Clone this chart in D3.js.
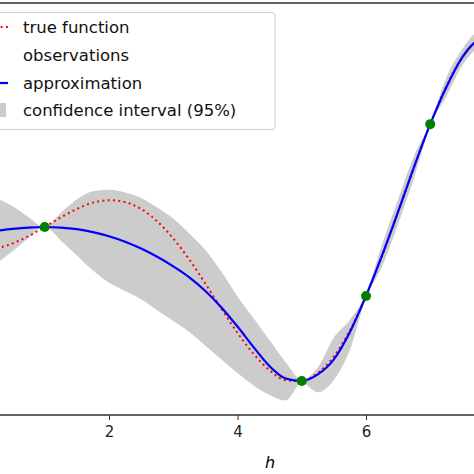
<!DOCTYPE html><html><head><meta charset="utf-8">
<script src="https://cdn.jsdelivr.net/npm/d3@7"></script>
<style>body{margin:0;background:#fff}svg{display:block}</style></head><body>
<svg id="c" width="474" height="474"></svg>
<script>
const trueX=[-0.4,0,0.25,0.5,0.75,1,1.25,1.5,1.75,2,2.25,2.5,2.75,3,3.25,3.5,3.75,4,4.25,4.5,4.75,5,5.25,5.5,5.75,6,6.25,6.5,6.75,7,7.25,7.5,7.75,8];
const trueY=[0.16,0,0.06,0.24,0.51,0.84,1.19,1.5,1.73,1.82,1.75,1.5,1.05,0.42,-0.35,-1.23,-2.15,-3.03,-3.8,-4.4,-4.76,-4.79,-4.5,-3.89,-2.94,-1.68,-0.21,1.40,3.05,4.6,5.98,7.04,7.7,7.91];
const obsX=[1,5,6,7,8];
const obsY=[0.84,-4.79,-1.68,4.6,7.91];
const gpX=[-0.4,0,0.25,0.5,0.75,1,1.25,1.5,1.75,2,2.25,2.5,2.75,3,3.25,3.5,3.75,4,4.25,4.5,4.75,5,5.25,5.5,5.75,6,6.25,6.5,6.75,7,7.25,7.5,7.75,8];
const gpY=[0.5,0.62,0.7,0.77,0.82,0.84,0.82,0.76,0.65,0.5,0.3,0.05,-0.25,-0.6,-1.0,-1.5,-2.1,-2.8,-3.55,-4.25,-4.7,-4.79,-4.55,-4.0,-3.0,-1.68,-0.2,1.4,3.05,4.6,5.95,7.05,7.7,7.91];
const gpLo=[-1.6,-1.0,-0.5,-0.05,0.45,0.84,0.35,-0.2,-0.75,-1.2,-1.5,-1.8,-2.2,-2.6,-3.0,-3.5,-4.0,-4.5,-4.95,-5.3,-5.5,-4.85,-5.2,-4.75,-3.65,-1.75,-0.6,0.95,2.65,4.55,5.6,6.75,7.45,7.91];
const gpHi=[2.6,2.25,1.9,1.6,1.2,0.84,1.35,1.85,2.15,2.2,2.1,1.9,1.55,1.15,0.6,0.0,-0.8,-1.7,-2.5,-3.3,-4.1,-4.73,-4.3,-3.2,-2.55,-1.6,0.2,1.85,3.45,4.65,6.3,7.35,7.95,7.91];
const xTicks=[2,4,6];
const legendLabels=["true function","observations","approximation","confidence interval (95%)"];

const svg=d3.select("#c");
const x=d3.scaleLinear().domain([0,2]).range([-19.5,109]);
const y=d3.scaleLinear().domain([0.84,-4.79]).range([227,381]);
const bottom=415;
svg.append("defs").append("clipPath").attr("id","cp").append("rect").attr("x",0).attr("y",3).attr("width",474).attr("height",bottom-3);
const g=svg.append("g").attr("clip-path","url(#cp)");
const idx=d3.range(gpX.length);
g.append("path").datum(idx).attr("fill","#cccccc")
 .attr("d",d3.area().x(i=>x(gpX[i])).y0(i=>y(gpLo[i])).y1(i=>y(gpHi[i])).curve(d3.curveMonotoneX));
g.append("path").datum(d3.range(trueX.length)).attr("fill","none").attr("stroke","#ff0000").attr("stroke-width",2).attr("stroke-dasharray","2,3.3")
 .attr("d",d3.line().x(i=>x(trueX[i])).y(i=>y(trueY[i])).curve(d3.curveMonotoneX));
g.append("path").datum(idx).attr("fill","none").attr("stroke","#0000ff").attr("stroke-width",2.2)
 .attr("d",d3.line().x(i=>x(gpX[i])).y(i=>y(gpY[i])).curve(d3.curveMonotoneX));
g.selectAll("circle").data(obsX).join("circle").attr("cx",d=>x(d)).attr("cy",(d,i)=>y(obsY[i])).attr("r",5).attr("fill","#008000");
svg.append("line").attr("x1",0).attr("x2",474).attr("y1",3).attr("y2",3).attr("stroke","#333").attr("stroke-width",1.3);
const ax=svg.append("g").attr("transform",`translate(0,${bottom})`).call(d3.axisBottom(x).tickValues(xTicks).tickSize(5).tickPadding(6).tickFormat(d3.format("d")));
ax.select(".domain").attr("d","M0,0H474").attr("stroke","#333").attr("stroke-width",1.3);
ax.selectAll("text").attr("font-family","DejaVu Sans").attr("font-size",15).attr("fill","#222");
ax.selectAll(".tick line").attr("stroke","#333");
svg.append("text").attr("x",270).attr("y",468).attr("text-anchor","middle").attr("font-family","DejaVu Sans").attr("font-style","italic").attr("font-size",16).text("h");
const lg=svg.append("g");
lg.append("rect").attr("x",-10).attr("y",12.5).attr("width",285).attr("height",117).attr("rx",3).attr("fill","#fff").attr("fill-opacity",0.85).attr("stroke","#ccc");
legendLabels.forEach((t,i)=>{
 const yy=27+i*27.8;
 lg.append("text").attr("x",23).attr("y",yy+6).attr("font-family","DejaVu Sans").attr("font-size",16.5).attr("fill","#111").text(t);
});
lg.append("line").attr("x1",-10).attr("x2",8).attr("y1",27).attr("y2",27).attr("stroke","#f00").attr("stroke-width",2).attr("stroke-dasharray","2,3.3");
lg.append("line").attr("x1",-10).attr("x2",8).attr("y1",83).attr("y2",83).attr("stroke","#00f").attr("stroke-width",2.2);
lg.append("rect").attr("x",-10).attr("y",103).attr("width",16).attr("height",14).attr("fill","#ccc");
</script></body></html>
